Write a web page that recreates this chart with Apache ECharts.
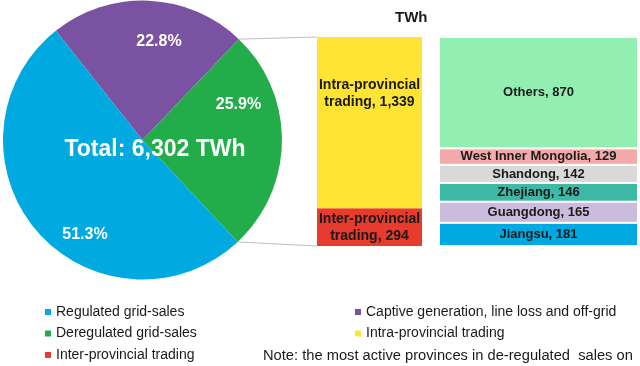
<!DOCTYPE html>
<html>
<head>
<meta charset="utf-8">
<script src="https://cdn.jsdelivr.net/npm/echarts@6/dist/echarts.min.js"></script>
<style>html,body{margin:0;padding:0;background:#fff;}#c{width:640px;height:366px;}</style>
</head>
<body>
<div id="c"></div>
<script>
// ---- data ----
const pieNames = ['Captive generation, line loss and off-grid', 'Deregulated grid-sales', 'Regulated grid-sales'];
const pieValues = [1437, 1633, 3232];
const tradeNames = ['Inter-provincial trading', 'Intra-provincial trading'];
const tradeValues = [294, 1339];
const provinceNames = ['Jiangsu', 'Guangdong', 'Zhejiang', 'Shandong', 'West Inner Mongolia', 'Others'];
const provinceValues = [181, 165, 146, 142, 129, 870];
const unitLabel = 'TWh';
const noteText = 'Note: the most active provinces in de-regulated  sales on';

// ---- styles / layout ----
const FONT = "'Liberation Sans', Arial, sans-serif";
const pieColors = ['#7A52A2', '#22AD4A', '#00A9E0'];
const tradeColors = ['#E83A2D', '#FFE433'];
const provinceColors = ['#00A9E0', '#CBBCDD', '#3DB9A5', '#D9D9D9', '#F5AAAA', '#93EEB2'];
const pieCenter = [142.5, 140], pieRadius = 139.5, pieStart = 128.4;
const pieLabelOffsets = [[16.5, -98], [96, -35], [-57.5, 95]];
const g1 = {left: 317, top: 37, width: 105, height: 209};
const g2 = {left: 439, top: 37, width: 199, height: 209};

const pieTotal = pieValues.reduce((a, b) => a + b, 0);
const tradeTotal = tradeValues.reduce((a, b) => a + b, 0);
const provTotal = provinceValues.reduce((a, b) => a + b, 0);
const barMax = Math.max(tradeTotal, provTotal);
const fmt = v => v.toLocaleString('en-US');

const chart = echarts.init(document.getElementById('c'), null, {renderer: 'canvas'});

// connector line endpoints from pie geometry & grid geometry
const a1 = pieStart - 360 * pieValues[0] / pieTotal;
const a2 = a1 - 360 * pieValues[1] / pieTotal;
const pt = a => [pieCenter[0] + pieRadius * Math.cos(a * Math.PI / 180), pieCenter[1] - pieRadius * Math.sin(a * Math.PI / 180)];
const p1 = pt(a1), p2 = pt(a2);

const series = [];
series.push({
  type: 'pie',
  center: pieCenter,
  radius: [0, pieRadius],
  startAngle: pieStart,
  clockwise: true,
  avoidLabelOverlap: false,
  silent: true,
  data: pieNames.map((n, i) => ({name: n, value: pieValues[i], itemStyle: {color: pieColors[i]}})),
  label: {
    show: true, position: 'inside', color: '#fff', fontFamily: FONT, fontWeight: 'bold', fontSize: 16,
    formatter: p => (p.value / pieTotal * 100).toFixed(1) + '%'
  },
  labelLine: {show: false},
  labelLayout: p => {
    const o = pieLabelOffsets[p.dataIndex];
    return {x: pieCenter[0] + o[0], y: pieCenter[1] + o[1], align: 'center', verticalAlign: 'middle'};
  }
});
tradeNames.forEach((n, i) => {
  series.push({
    type: 'bar', name: n, stack: 'trade', xAxisIndex: 0, yAxisIndex: 0,
    barWidth: '100%', silent: true,
    data: [tradeValues[i]],
    itemStyle: {color: tradeColors[i]},
    label: {
      show: true,
      position: i === 1 ? ['50%', '33%'] : 'inside',
      align: 'center', verticalAlign: 'middle',
      color: '#1a1a1a', fontFamily: FONT, fontWeight: 'bold', fontSize: 14, lineHeight: 17,
      formatter: p => p.seriesName.replace(' ', '\n') + ', ' + fmt(p.value)
    }
  });
});
provinceNames.forEach((n, i) => {
  series.push({
    type: 'bar', name: n, stack: 'prov', xAxisIndex: 1, yAxisIndex: 1,
    barWidth: '100%', silent: true,
    data: [provinceValues[i]],
    itemStyle: {color: provinceColors[i], borderColor: '#fff', borderWidth: 1},
    label: {
      show: true, position: 'inside',
      color: '#1a1a1a', fontFamily: FONT, fontWeight: 'bold', fontSize: 13,
      formatter: p => p.seriesName + ', ' + fmt(p.value)
    }
  });
});

const legendCommon = {
  orient: 'vertical', icon: 'rect', itemWidth: 6, itemHeight: 6, itemGap: 7.5,
  padding: 0, height: 80,
  selectedMode: false,
  textStyle: {fontFamily: FONT, fontSize: 14, color: '#1a1a1a', lineHeight: 14}
};

chart.setOption({
  animation: false,
  backgroundColor: '#fff',
  title: [
    {text: unitLabel, left: 390, top: 5, textStyle: {fontFamily: FONT, fontSize: 15, fontWeight: 'bold', color: '#1a1a1a'}},
    {text: noteText, left: 258, top: 343, textStyle: {fontFamily: FONT, fontSize: 14.7, fontWeight: 'normal', color: '#1a1a1a'}}
  ],
  legend: [
    Object.assign({left: 45, top: 305, data: ['Regulated grid-sales', 'Deregulated grid-sales', 'Inter-provincial trading']}, legendCommon),
    Object.assign({left: 355, top: 305, data: ['Captive generation, line loss and off-grid', 'Intra-provincial trading']}, legendCommon)
  ],
  grid: [
    Object.assign({containLabel: false}, g1),
    Object.assign({containLabel: false}, g2)
  ],
  xAxis: [
    {type: 'category', gridIndex: 0, data: ['trade'], show: false},
    {type: 'category', gridIndex: 1, data: ['prov'], show: false}
  ],
  yAxis: [
    {type: 'value', gridIndex: 0, min: 0, max: barMax, show: false},
    {type: 'value', gridIndex: 1, min: 0, max: barMax, show: false}
  ],
  series: series,
  graphic: [
    {type: 'text', x: 155, y: 150, z: 100, silent: true,
     style: {text: 'Total: ' + fmt(pieTotal) + ' TWh', fill: '#fff', font: 'bold 23px ' + FONT,
             align: 'center', verticalAlign: 'middle', textAlign: 'center', textVerticalAlign: 'middle'}},
    {type: 'line', silent: true, z: 50, shape: {x1: p1[0], y1: p1[1], x2: g1.left, y2: g1.top}, style: {stroke: '#BFBFBF', lineWidth: 1}},
    {type: 'line', silent: true, z: 50, shape: {x1: p2[0], y1: p2[1], x2: g1.left, y2: g1.top + g1.height}, style: {stroke: '#BFBFBF', lineWidth: 1}}
  ]
});
</script>
</body>
</html>
